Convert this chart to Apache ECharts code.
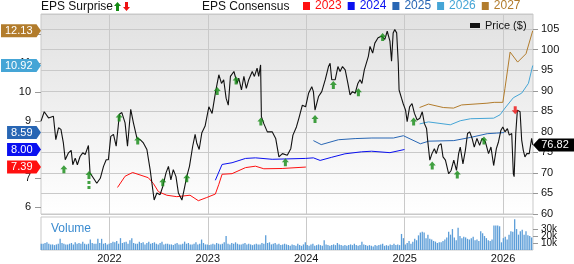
<!DOCTYPE html>
<html>
<head>
<meta charset="utf-8">
<style>
  html, body { margin: 0; padding: 0; background: #fff; }
  #chart { width: 574px; height: 264px; }
</style>
<script src="https://cdn.jsdelivr.net/npm/echarts@6/dist/echarts.min.js"></script>
</head>
<body>
<div id="chart"></div>
<script>
// ---- data ----------------------------------------------------------------
const yearLabels = ['2022', '2023', '2024', '2025', '2026'];
const volumeTicks = [0, 10, 20, 30, 40];

const priceDates = [
  '2021-04-22','2021-05-04','2021-05-20','2021-06-07','2021-06-16','2021-06-26','2021-07-05','2021-07-14',
  '2021-07-21','2021-08-02','2021-08-12','2021-08-18','2021-08-27','2021-09-04','2021-09-14','2021-09-24',
  '2021-10-03','2021-10-15','2021-10-21','2021-11-03','2021-11-15','2021-11-28','2021-12-10','2021-12-20',
  '2021-12-28','2022-01-06','2022-01-16','2022-01-26','2022-02-07','2022-02-16','2022-02-28','2022-03-09',
  '2022-03-21','2022-03-31','2022-04-13','2022-04-25','2022-05-07','2022-05-20','2022-06-01','2022-06-16',
  '2022-06-26','2022-07-08','2022-07-18','2022-07-30','2022-08-08','2022-08-17','2022-08-26','2022-09-05',
  '2022-09-14','2022-09-27','2022-10-05','2022-10-15','2022-10-25','2022-11-06','2022-11-15','2022-11-21',
  '2022-11-30','2022-12-10','2022-12-22','2023-01-05','2023-01-17','2023-01-30','2023-02-11','2023-02-21',
  '2023-03-01','2023-03-10','2023-03-18','2023-03-26','2023-04-08','2023-04-20','2023-04-26','2023-05-06',
  '2023-05-15','2023-05-24','2023-06-02','2023-06-15','2023-06-23','2023-07-03','2023-07-09','2023-07-16',
  '2023-07-19','2023-07-28','2023-08-10','2023-08-28','2023-09-10','2023-09-22','2023-10-05','2023-10-23',
  '2023-11-05','2023-11-13','2023-11-26','2023-12-05','2023-12-18','2023-12-30','2024-01-10','2024-01-22',
  '2024-01-28','2024-02-03','2024-02-16','2024-02-28','2024-03-12','2024-03-24','2024-03-30','2024-04-05',
  '2024-04-18','2024-04-28','2024-05-06','2024-05-15','2024-05-25','2024-06-04','2024-06-12','2024-06-21',
  '2024-07-01','2024-07-11','2024-07-19','2024-07-26','2024-08-04','2024-08-19','2024-08-25','2024-09-04',
  '2024-09-12','2024-09-24','2024-10-07','2024-10-19','2024-10-28','2024-11-07','2024-11-13','2024-11-19',
  '2024-11-25','2024-12-02','2024-12-08','2024-12-11','2024-12-20','2024-12-26','2025-01-04','2025-01-10',
  '2025-01-19','2025-01-28','2025-02-06','2025-02-16','2025-02-26','2025-03-07','2025-03-15','2025-03-23',
  '2025-03-27','2025-04-04','2025-04-12','2025-04-21','2025-04-28','2025-05-07','2025-05-16','2025-05-23',
  '2025-06-01','2025-06-13','2025-06-22','2025-07-02','2025-07-12','2025-07-20','2025-07-26','2025-08-05',
  '2025-08-14','2025-08-22','2025-08-30','2025-09-08','2025-09-16','2025-09-26','2025-10-06','2025-10-15',
  '2025-10-27','2025-11-02','2025-11-08','2025-11-17','2025-11-27','2025-12-07','2025-12-15','2025-12-24',
  '2025-12-31','2026-01-08','2026-01-17','2026-01-24','2026-02-02','2026-02-08','2026-02-11','2026-02-17',
  '2026-02-23','2026-03-05','2026-03-11','2026-03-17','2026-03-23','2026-03-30','2026-04-08','2026-04-17',
  '2026-04-21'
];
const priceValues = [
  82.6,84.9,83.4,83.8,78.1,81.0,80.6,77.3,
  73.2,74.9,75.5,72.0,73.6,72.0,74.0,74.9,
  74.5,76.7,70.0,68.7,67.5,68.7,71.6,73.2,
  73.2,78.9,79.4,76.5,84.3,84.7,82.2,76.5,
  85.5,82.2,78.5,78.1,77.3,75.7,70.8,63.4,
  65.1,64.7,66.7,70.0,71.6,68.3,70.8,69.1,
  65.1,63.4,65.9,69.1,71.6,76.5,79.4,77.3,
  75.7,79.8,81.4,86.1,84.5,89.8,93.9,91.8,
  92.7,88.2,86.5,93.5,94.7,91.8,93.1,90.2,
  93.5,90.6,92.7,94.7,93.5,95.5,93.5,96.3,
  83.7,82.0,80.0,80.0,78.4,73.9,74.7,74.3,
  75.9,79.2,81.2,83.3,86.5,86.1,89.4,91.0,
  89.8,85.3,88.6,89.8,92.7,95.9,96.7,92.7,
  92.7,95.9,94.7,95.9,95.1,91.8,89.0,89.8,
  89.4,91.8,92.7,91.8,95.1,98.4,100.8,99.2,
  101.6,102.9,103.3,102.5,104.5,102.1,97.2,104.1,
  104.9,104.1,96.7,90.2,88.2,86.9,85.3,82.5,
  86.1,86.9,84.5,82.9,83.3,84.9,82.0,80.8,
  78.0,73.1,74.7,75.9,74.7,76.7,77.1,73.9,
  73.1,69.8,70.6,73.1,70.6,74.7,76.3,72.2,
  75.5,79.6,80.0,78.4,76.3,78.4,76.7,78.4,
  77.6,78.0,74.7,76.3,71.8,75.9,77.6,80.4,
  81.2,80.0,80.8,79.2,79.6,69.8,69.1,79.6,
  85.3,84.9,78.0,75.5,73.9,74.7,74.7,78.4,
  76.82
];

// consensus EPS estimates by fiscal year
const cons2023Dates = ['2022-01-31','2022-02-28','2022-03-28','2022-05-25','2022-06-13','2022-07-02','2022-08-02',
  '2022-09-08','2022-10-27','2022-11-27','2022-12-28','2023-01-29','2023-02-11','2023-02-23','2023-04-01',
  '2023-05-21','2023-06-27','2023-07-28','2023-10-04','2023-12-31'];
const cons2023 = [6.68,7.07,7.20,7.02,6.82,6.53,6.41,6.36,6.41,6.22,6.33,6.45,6.79,7.14,7.16,7.37,7.42,7.33,7.34,7.39];

const cons2024Dates = ['2023-01-29','2023-02-23','2023-04-01','2023-05-21','2023-06-27','2023-08-28','2023-12-29',
  '2024-01-28','2024-02-22','2024-04-05','2024-05-24','2024-07-25','2024-08-31','2024-11-07','2024-12-31'];
const cons2024 = [6.93,7.48,7.54,7.69,7.71,7.66,7.69,7.71,7.62,7.73,7.85,7.92,7.94,7.89,8.00];

const cons2025Dates = ['2024-01-28','2024-02-26','2024-04-30','2024-07-01','2024-09-01','2024-11-20','2024-12-27',
  '2025-02-28','2025-03-31','2025-07-02','2025-09-02','2025-11-03','2025-12-07','2026-01-05'];
const cons2025 = [8.31,8.17,8.34,8.38,8.40,8.40,8.48,8.20,8.29,8.31,8.42,8.55,8.57,8.59];

const cons2026Dates = ['2025-02-25','2025-03-30','2025-06-19','2025-07-26','2025-09-02','2025-11-27','2025-12-21',
  '2026-01-08','2026-02-08','2026-03-11','2026-04-05','2026-04-21'];
const cons2026 = [8.89,8.96,8.86,9.00,9.07,9.09,9.21,9.44,9.80,9.96,10.30,10.92];

const cons2027Dates = ['2025-02-25','2025-03-30','2025-05-24','2025-07-01','2025-07-31','2025-11-02','2025-11-29',
  '2025-12-31','2026-01-08','2026-01-27','2026-02-24','2026-03-27','2026-04-21'];
const cons2027 = [9.46,9.58,9.46,9.44,9.55,9.61,9.64,9.64,10.13,11.39,11.04,11.33,12.13];

// earnings surprises: report date and the price level the marker points to
const beatDates  = ['2021-07-16','2022-02-06','2022-04-16','2022-07-18','2022-10-15','2023-02-05','2023-04-16',
  '2023-07-17','2023-10-16','2024-02-03','2024-04-11','2024-07-13','2024-10-11','2025-02-03','2025-04-13',
  '2025-07-15','2025-10-22'];
const beatLevels = [71.9,84.5,78.9,68.7,69.7,90.9,93.5,83.5,73.6,84.1,92.4,90.6,104.1,83.5,72.8,70.6,78.9];
const inlineBeatDates = ['2021-10-17'];
const inlineBeatLevels = [70.5];
const missDates  = ['2026-02-15'];
const missLevels = [84.3];

// weekly volume (thousands of shares), weeks starting 2021-04-23
const volumeStart = '2021-04-23';
const volumeK = [
  9,9,10,11,9,8,8,7,8,9,16,10,9,8,8,9,10,8,11,9,10,9,12,9,8,9,15,10,9,9,16,10,16,9,10,8,
  9,10,12,11,13,9,17,10,11,12,9,14,17,10,9,9,12,10,11,8,10,12,9,10,11,9,8,10,12,8,9,9,8,8,7,9,10,8,8,9,12,9,10,8,8,9,11,8,9,15,10,8,
  8,7,8,9,8,10,9,8,9,11,20,9,8,10,9,11,9,8,8,9,10,8,9,8,7,8,9,8,8,10,9,21,10,11,8,9,10,8,9,7,8,9,8,7,6,8,7,6,9,7,6,8,11,
  7,6,8,9,6,7,8,7,6,14,8,7,6,7,8,7,10,8,7,6,7,6,7,8,7,9,7,6,7,12,8,7,6,7,6,5,7,6,7,8,9,6,7,6,8,7,9,7,8,7,23,17,
  8,10,13,9,12,16,14,21,25,26,25,17,22,16,15,13,12,10,11,11,13,15,18,26,22,30,18,14,32,20,17,19,18,16,15,17,19,14,15,13,27,24,20,17,14,13,15,35,35,35,34,11,
  17,19,15,22,27,26,44,30,22,27,29,22,27,21,20,18
];

// ---- helpers ---------------------------------------------------------------
const FONT = '"Liberation Sans", Arial, Helvetica, sans-serif';
const DAY = 864e5;
const ms = s => Date.parse(s + 'T00:00:00Z');
const pairs = (dates, vals) => dates.map((d, i) => [ms(d), vals[i]]);
const X_MIN = ms('2021-04-22');
const X_MAX = ms('2026-04-22');
const yearTicks = yearLabels.map(y => ms(y + '-01-01'));
const volumeData = volumeK.map((v, i) => [ms(volumeStart) + i * 7 * DAY, v]);

const COLORS = {
  c2023: '#ff1010', c2024: '#0a10f0', c2025: '#2866b4', c2026: '#45a5d6', c2027: '#b27c2c',
  price: '#111111', up: '#138a13', down: '#ee1111', volume: '#5b9dd8', grid: '#c9c9c9'
};

const UP_ARROW = 'path://M3.5,0 L7,4 L5,4 L5,8 L2,8 L2,4 L0,4 Z';
const UP_ARROW_DASHED = 'path://M3.5,0 L7,4 L5,4 L5,8 L2,8 L2,4 L0,4 Z M2,10 L5,10 L5,13 L2,13 Z M2,15 L5,15 L5,18 L2,18 Z';
const DOWN_ARROW = 'path://M2,0 L5,0 L5,4 L7,4 L3.5,8 L0,4 L2,4 Z';

const yearLine = {
  silent: true, symbol: 'none', z: 1, animation: false,
  label: { show: false },
  lineStyle: { color: COLORS.grid, width: 1, type: 'solid' },
  data: yearTicks.map(t => ({ xAxis: t }))
};

const consLine = (name, dates, vals, color) => ({
  name, type: 'line', xAxisIndex: 0, yAxisIndex: 0,
  data: pairs(dates, vals), showSymbol: false, symbol: 'none',
  lineStyle: { color, width: 1 }, itemStyle: { color }, z: 2
});

const chart = echarts.init(document.getElementById('chart'), null, { renderer: 'canvas' });

const axisText = { fontSize: 11, color: '#111', fontFamily: FONT };

const option = {
  animation: false,
  grid: [
    { left: 41, right: 41, top: 14, height: 200, show: true, borderColor: COLORS.grid, borderWidth: 1,
      backgroundColor: { type: 'linear', x: 0, y: 0, x2: 0, y2: 1,
        colorStops: [{ offset: 0, color: '#e1e1e1' }, { offset: 1, color: '#ffffff' }] } },
    { left: 41, right: 41, top: 217, height: 37, show: true, borderColor: COLORS.grid, borderWidth: 1,
      backgroundColor: '#ffffff' }
  ],
  xAxis: [
    { type: 'value', gridIndex: 0, min: X_MIN, max: X_MAX,
      axisLine: { show: false }, axisTick: { show: false }, axisLabel: { show: false }, splitLine: { show: false } },
    { type: 'value', gridIndex: 1, min: X_MIN, max: X_MAX,
      axisLine: { show: false }, axisTick: { show: false }, splitLine: { show: false },
      axisLabel: Object.assign({ customValues: yearTicks, margin: 3,
        formatter: v => String(new Date(v).getUTCFullYear()) }, axisText) }
  ],
  yAxis: [
    { type: 'value', gridIndex: 0, position: 'left', min: 5.757, max: 12.713,
      splitLine: { show: false }, axisLine: { show: false },
      axisTick: { show: true, length: 6, customValues: [6, 7, 8, 9, 10, 11, 12], lineStyle: { color: '#999' } },
      axisLabel: Object.assign({ customValues: [6, 7, 8, 9, 10, 11], margin: 10 }, axisText) },
    { type: 'value', gridIndex: 0, position: 'right', min: 60, max: 108.7, interval: 5,
      splitLine: { show: true, lineStyle: { color: COLORS.grid, width: 1 } }, axisLine: { show: false },
      axisTick: { show: true, length: 5, lineStyle: { color: '#999' } },
      axisLabel: Object.assign({ margin: 8, showMinLabel: true, showMaxLabel: false }, axisText) },
    { type: 'value', gridIndex: 1, position: 'right', min: 0, max: 47.3,
      splitLine: { show: false }, axisLine: { show: false },
      axisTick: { show: true, length: 5, customValues: volumeTicks, lineStyle: { color: '#999' } },
      axisLabel: { customValues: volumeTicks, margin: 8, hideOverlap: false,
        fontSize: 10, lineHeight: 9, color: '#111', fontFamily: FONT,
        formatter: v => v === 0 ? '0' : v + 'k' } }
  ],
  legend: [
    { left: 303, top: 0, padding: 0, icon: 'rect', itemWidth: 7, itemHeight: 8, itemGap: 6,
      selectedMode: false, textStyle: { fontSize: 12, fontFamily: FONT },
      data: [
        { name: '2023', textStyle: { color: COLORS.c2023 } },
        { name: '2024', textStyle: { color: COLORS.c2024 } },
        { name: '2025', textStyle: { color: COLORS.c2025 } },
        { name: '2026', textStyle: { color: COLORS.c2026 } },
        { name: '2027', textStyle: { color: COLORS.c2027 } }
      ] },
    { left: 470, top: 20, padding: 0, icon: 'rect', itemWidth: 10, itemHeight: 5,
      selectedMode: false, textStyle: { fontSize: 11, fontFamily: FONT, color: '#111' },
      data: ['Price ($)'] }
  ],
  series: [
    Object.assign(consLine('2023', cons2023Dates, cons2023, COLORS.c2023), { markLine: yearLine }),
    consLine('2024', cons2024Dates, cons2024, COLORS.c2024),
    consLine('2025', cons2025Dates, cons2025, COLORS.c2025),
    consLine('2026', cons2026Dates, cons2026, COLORS.c2026),
    consLine('2027', cons2027Dates, cons2027, COLORS.c2027),
    { name: 'Price ($)', type: 'line', xAxisIndex: 0, yAxisIndex: 1,
      data: pairs(priceDates, priceValues), showSymbol: false, symbol: 'none',
      lineStyle: { color: COLORS.price, width: 1.1 }, itemStyle: { color: COLORS.price }, z: 3 },
    { name: 'beat', type: 'scatter', xAxisIndex: 0, yAxisIndex: 1, data: pairs(beatDates, beatLevels),
      symbol: UP_ARROW, symbolSize: [7, 8], symbolOffset: [0, '50%'], itemStyle: { color: COLORS.up }, z: 4 },
    { name: 'beat-inline', type: 'scatter', xAxisIndex: 0, yAxisIndex: 1, data: pairs(inlineBeatDates, inlineBeatLevels),
      symbol: UP_ARROW_DASHED, symbolSize: [7, 18], symbolOffset: [0, '50%'], itemStyle: { color: COLORS.up }, z: 4 },
    { name: 'miss', type: 'scatter', xAxisIndex: 0, yAxisIndex: 1, data: pairs(missDates, missLevels),
      symbol: DOWN_ARROW, symbolSize: [7, 8], symbolOffset: [0, '-50%'], itemStyle: { color: COLORS.down }, z: 4 },
    { name: 'Volume', type: 'bar', xAxisIndex: 1, yAxisIndex: 2, data: volumeData,
      barWidth: 1.3, itemStyle: { color: COLORS.volume }, markLine: yearLine, z: 2 }
  ]
};

chart.setOption(option);

// ---- header, panel caption and value tags -----------------------------------
const measure = (() => {
  const ctx = document.createElement('canvas').getContext('2d');
  return (txt, size) => { ctx.font = size + 'px ' + FONT; return ctx.measureText(txt).width; };
})();

const leftTag = (value, color) => {
  const y = chart.convertToPixel({ yAxisIndex: 0 }, value);
  const txt = value.toFixed(2);
  const right = 36.5, tip = 41, h = 6.5;
  const left = right - measure(txt, 11) - 8;
  return [
    { type: 'polygon', z: 100, shape: { points: [[left, y - h], [right, y - h], [tip, y], [right, y + h], [left, y + h]] },
      style: { fill: color } },
    { type: 'text', z: 101, x: (left + right) / 2, y: y,
      style: { text: txt, fill: '#fff', fontSize: 11, fontFamily: FONT, align: 'center', verticalAlign: 'middle' } }
  ];
};

const rightTag = (value, color) => {
  const y = chart.convertToPixel({ yAxisIndex: 1 }, value);
  const txt = value.toFixed(2);
  const tip = 533, body = 539, h = 6.5;
  return [
    { type: 'polygon', z: 100, shape: { points: [[tip, y], [body, y - h], [574, y - h], [574, y + h], [body, y + h]] },
      style: { fill: color } },
    { type: 'text', z: 101, x: 555, y: y,
      style: { text: txt, fill: '#fff', fontSize: 11, fontFamily: FONT, align: 'center', verticalAlign: 'middle' } }
  ];
};

const last = a => a[a.length - 1];

chart.setOption({
  graphic: [].concat(
    [
      { type: 'text', z: 50, x: 41, y: 7,
        style: { text: 'EPS Surprise', fill: '#111', fontSize: 12, fontFamily: FONT, verticalAlign: 'middle' } },
      { type: 'polygon', z: 50, shape: { points: [[117.5, 2], [121, 6], [119, 6], [119, 11], [116, 11], [116, 6], [114, 6]] },
        style: { fill: COLORS.up } },
      { type: 'polygon', z: 50, shape: { points: [[125, 2], [128, 2], [128, 7], [130, 7], [126.5, 11], [123, 7], [125, 7]] },
        style: { fill: COLORS.down } },
      { type: 'text', z: 50, x: 202, y: 7,
        style: { text: 'EPS Consensus', fill: '#111', fontSize: 12, fontFamily: FONT, verticalAlign: 'middle' } },
      { type: 'text', z: 50, x: 51, y: 229,
        style: { text: 'Volume', fill: '#3a8bd0', fontSize: 12, fontFamily: FONT, verticalAlign: 'middle' } }
    ],
    leftTag(last(cons2027), COLORS.c2027),
    leftTag(last(cons2026), COLORS.c2026),
    leftTag(last(cons2025), COLORS.c2025),
    leftTag(last(cons2024), COLORS.c2024),
    leftTag(last(cons2023), COLORS.c2023),
    rightTag(last(priceValues), '#000000')
  )
});
</script>
</body>
</html>
